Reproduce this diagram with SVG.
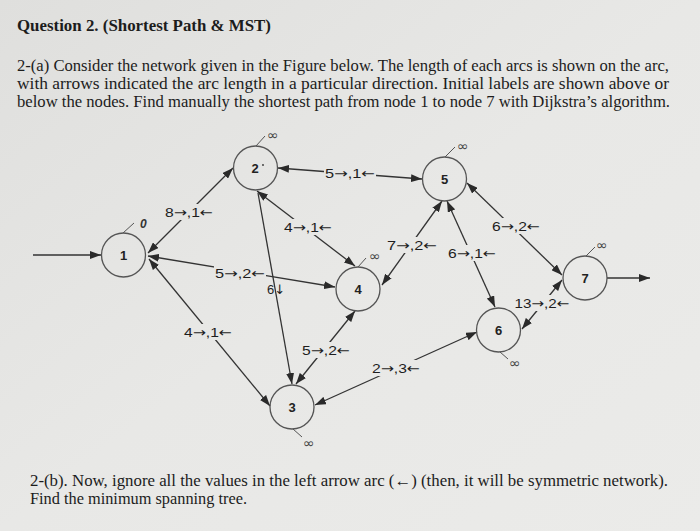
<svg xmlns="http://www.w3.org/2000/svg" width="700" height="531" viewBox="0 0 700 531">
<defs>
<linearGradient id="bg" x1="0" y1="0" x2="1" y2="1">
<stop offset="0" stop-color="#dfdfdd"/>
<stop offset="0.5" stop-color="#e8e8e6"/>
<stop offset="1" stop-color="#ebebe9"/>
</linearGradient>
<marker id="ah" viewBox="0 0 11 8" refX="11" refY="4" markerWidth="11" markerHeight="8" markerUnits="userSpaceOnUse" orient="auto-start-reverse">
<path d="M0,0 L11,4 L0,8 z" fill="#2a2a2a"/>
</marker>
<mask id="gaps" maskUnits="userSpaceOnUse" x="0" y="0" width="700" height="531">
<rect width="700" height="531" fill="#fff"/>
<g fill="#000">
<rect x="164" y="204" width="50" height="16"/>
<rect x="324" y="165" width="52" height="16"/>
<rect x="283" y="219" width="50" height="16"/>
<rect x="214" y="265" width="52" height="16"/>
<rect x="183" y="324" width="50" height="16"/>
<rect x="301" y="342" width="50" height="16"/>
<rect x="386" y="237" width="52" height="16"/>
<rect x="447" y="245" width="50" height="16"/>
<rect x="491" y="218" width="50" height="16"/>
<rect x="514" y="295" width="57" height="16"/>
<rect x="371" y="360" width="50" height="16"/>
</g>
</mask>
</defs>
<style>
.para{font-family:"Liberation Serif","Times New Roman",serif;font-size:16px;fill:#1c1c1c}
.title{font-weight:bold}
.edge{stroke:#333;stroke-width:1.3;fill:none}
.both{marker-start:url(#ah);marker-end:url(#ah)}
.end{marker-end:url(#ah)}
.node circle{fill:none;stroke:#555;stroke-width:1.3}
.node .num{font-family:"Liberation Sans",Arial,sans-serif;font-weight:bold;font-size:13px;fill:#222;text-anchor:middle}
.tick{stroke:#555;stroke-width:1}
.inf{font-family:"DejaVu Sans",sans-serif;font-size:14px;fill:#444}
.lbl{font-family:"Liberation Sans",Arial,sans-serif;font-size:13px;fill:#1e1e1e;text-anchor:middle}
.ar{font-family:"DejaVu Sans",sans-serif}
</style>
<rect width="700" height="531" fill="url(#bg)"/>

<g id="text">
<text class="para title" x="17" y="31" textLength="254" lengthAdjust="spacingAndGlyphs">Question 2. (Shortest Path &amp; MST)</text>
<text class="para" x="17" y="71" textLength="652" lengthAdjust="spacingAndGlyphs">2-(a) Consider the network given in the Figure below. The length of each arcs is shown on the arc,</text>
<text class="para" x="17" y="89" textLength="652" lengthAdjust="spacingAndGlyphs">with arrows indicated the arc length in a particular direction. Initial labels are shown above or</text>
<text class="para" x="17" y="107" textLength="653" lengthAdjust="spacingAndGlyphs">below the nodes. Find manually the shortest path from node 1 to node 7 with Dijkstra’s algorithm.</text>
<text class="para" x="30" y="486" textLength="638" lengthAdjust="spacingAndGlyphs">2-(b). Now, ignore all the values in the left arrow arc (←) (then, it will be symmetric network).</text>
<text class="para" x="30" y="504" textLength="217" lengthAdjust="spacingAndGlyphs">Find the minimum spanning tree.</text>
</g>

<g id="connectors" mask="url(#gaps)">
<line class="edge end" x1="33" y1="255" x2="101" y2="255"/>
<line class="edge both" x1="148" y1="253" x2="233" y2="168"/>
<line class="edge both" x1="148" y1="256" x2="335" y2="287"/>
<line class="edge both" x1="149" y1="259" x2="270" y2="406"/>
<line class="edge both" x1="278" y1="168" x2="422" y2="179"/>
<line class="edge both" x1="257" y1="191" x2="355" y2="266"/>
<line class="edge end" x1="258" y1="193" x2="292" y2="384"/>
<line class="edge both" x1="296" y1="384" x2="355" y2="311"/>
<line class="edge both" x1="315" y1="405" x2="477" y2="332"/>
<line class="edge both" x1="382" y1="285" x2="442" y2="201"/>
<line class="edge both" x1="447" y1="201" x2="495" y2="307"/>
<line class="edge both" x1="467" y1="183" x2="562" y2="275"/>
<line class="edge both" x1="522" y1="329" x2="562" y2="280"/>
<line class="edge end" x1="607" y1="278" x2="650" y2="278"/>
</g>

<g id="edge-labels">
<text class="lbl" x="189" y="217" textLength="48" lengthAdjust="spacingAndGlyphs">8<tspan class="ar">→</tspan>,1<tspan class="ar">←</tspan></text>
<text class="lbl" x="350" y="178" textLength="50" lengthAdjust="spacingAndGlyphs">5<tspan class="ar">→</tspan>,1<tspan class="ar">←</tspan></text>
<text class="lbl" x="308" y="232" textLength="48" lengthAdjust="spacingAndGlyphs">4<tspan class="ar">→</tspan>,1<tspan class="ar">←</tspan></text>
<text class="lbl" x="276" y="294">6<tspan class="ar">↓</tspan></text>
<text class="lbl" x="240" y="278" textLength="50" lengthAdjust="spacingAndGlyphs">5<tspan class="ar">→</tspan>,2<tspan class="ar">←</tspan></text>
<text class="lbl" x="208" y="337" textLength="48" lengthAdjust="spacingAndGlyphs">4<tspan class="ar">→</tspan>,1<tspan class="ar">←</tspan></text>
<text class="lbl" x="326" y="355" textLength="48" lengthAdjust="spacingAndGlyphs">5<tspan class="ar">→</tspan>,2<tspan class="ar">←</tspan></text>
<text class="lbl" x="412" y="250" textLength="50" lengthAdjust="spacingAndGlyphs">7<tspan class="ar">→</tspan>,2<tspan class="ar">←</tspan></text>
<text class="lbl" x="472" y="258" textLength="48" lengthAdjust="spacingAndGlyphs">6<tspan class="ar">→</tspan>,1<tspan class="ar">←</tspan></text>
<text class="lbl" x="516" y="231" textLength="48" lengthAdjust="spacingAndGlyphs">6<tspan class="ar">→</tspan>,2<tspan class="ar">←</tspan></text>
<text class="lbl" x="542" y="308" textLength="55" lengthAdjust="spacingAndGlyphs">13<tspan class="ar">→</tspan>,2<tspan class="ar">←</tspan></text>
<text class="lbl" x="396" y="373" textLength="48" lengthAdjust="spacingAndGlyphs">2<tspan class="ar">→</tspan>,3<tspan class="ar">←</tspan></text>
</g>

<g id="node-1" class="node">
<circle cx="123.5" cy="255" r="22"/>
<text class="num" x="123.5" y="260">1</text>
<line class="tick" x1="123" y1="233" x2="134" y2="223"/>
<text x="140" y="228" style="font-family:'Liberation Sans',Arial,sans-serif;font-size:12px;font-style:italic;font-weight:bold;fill:#333">0</text>
</g>
<g id="node-2" class="node">
<circle cx="255.5" cy="168" r="22"/>
<text class="num" x="255" y="173">2</text>
<circle cx="263" cy="165" r="0.9" style="fill:#333;stroke:none"/>
<line class="tick" x1="256" y1="146" x2="265" y2="136"/>
<text class="inf" x="267" y="140">∞</text>
</g>
<g id="node-3" class="node">
<circle cx="292" cy="407" r="22"/>
<text class="num" x="292" y="412">3</text>
<line class="tick" x1="293" y1="429" x2="302" y2="437"/>
<text class="inf" x="303" y="448">∞</text>
</g>
<g id="node-4" class="node">
<circle cx="358" cy="289" r="22"/>
<text class="num" x="358" y="294">4</text>
<line class="tick" x1="358" y1="267" x2="366" y2="258"/>
<text class="inf" x="369" y="261">∞</text>
</g>
<g id="node-5" class="node">
<circle cx="444.5" cy="179" r="22"/>
<text class="num" x="444.5" y="184">5</text>
<line class="tick" x1="445" y1="157" x2="455" y2="147"/>
<text class="inf" x="457" y="151">∞</text>
</g>
<g id="node-6" class="node">
<circle cx="498.5" cy="330" r="22"/>
<text class="num" x="498.5" y="335">6</text>
<line class="tick" x1="500" y1="352" x2="508" y2="359"/>
<text class="inf" x="509" y="368">∞</text>
</g>
<g id="node-7" class="node">
<circle cx="585" cy="278" r="22"/>
<text class="num" x="585" y="283">7</text>
<line class="tick" x1="586" y1="256" x2="595" y2="247"/>
<text class="inf" x="596" y="250">∞</text>
</g>
</svg>
